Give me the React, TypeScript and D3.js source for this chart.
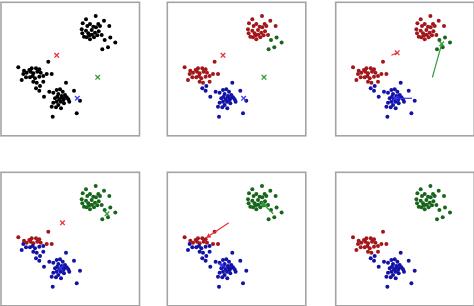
import React from "react";
import * as d3 from "d3";

// Sample coordinates (data units, y grows downward inside each frame)
const upperCluster: [number, number][] = [
  [94.7, 13.7], [85, 17], [81.7, 21], [89, 21.7], [103, 18.4], [97.3, 21.7], [92.3, 24.4], [86.3, 23.7],
  [80.7, 27], [99, 23.7], [95, 25], [108.3, 23.7], [90.7, 27.7], [85, 28.4], [81.3, 31], [87.3, 31],
  [94, 30.4], [97.7, 29], [100.7, 32.7], [85.7, 35], [89, 37], [93, 35], [88.3, 33], [91, 32.4],
  [96.3, 33], [83, 34.4], [103.7, 37.7], [109.3, 35.3], [114.3, 40.3], [107, 45], [101.3, 47],
];

const leftCluster: [number, number][] = [
  [17.3, 65], [23, 68.4], [28.3, 67.7], [30.7, 66], [35, 66], [38.3, 67], [25.7, 70.4], [29.7, 69.4],
  [32.3, 71], [36.3, 69.4], [39.7, 70.4], [45.7, 71.7], [50.7, 71.7], [47.3, 59.4], [22.3, 71.7],
  [20.7, 77.7], [25, 75], [29, 75], [31.7, 73.7], [34, 76], [38.3, 74.4], [42.3, 73.7], [32.3, 79.4],
  [35.7, 80.4], [42.3, 79.4], [39, 83.7], [35, 86], [38.3, 88.4], [43, 94.4],
];

const lowerCluster: [number, number][] = [
  [65, 80.4], [73, 88.4], [48.3, 89.4], [52.3, 90.4], [55.7, 87.7], [59, 87], [61.7, 89.4], [57.3, 91.7],
  [60.7, 93.7], [64, 92.7], [65.7, 95], [67.3, 97], [54, 96], [58.3, 97], [62.3, 97.7], [59.7, 99.4],
  [55.7, 99.4], [52.3, 100.4], [57.3, 102.7], [63, 101], [50.7, 104.4], [55, 105], [60, 106],
  [51.7, 114.4], [75.7, 111], [79, 98.4], [68.3, 99.4], [60.7, 95], [56.3, 94.4], [63.3, 96],
];

// Cluster labels per iteration (k = unassigned, r/g/b = cluster)
const upperLabels = [
  "kkkkk kkkkk kkkkk kkkkk kkkkk kkkkk k",
  "rrrrr rrrrr rrrrr rrrrr rrrrr r ggggg",
  "ggggg ggggg ggggg ggggg ggggg ggggg g",
  "ggggg ggggg ggggg ggggg ggggg ggggg g",
];
const leftLabels = [
  "kkkkk kkkkk kkkkk kkkkk kkkkk kkkk",
  "rrrrr rrrrr rrrrr rrrrr rrrrr bbbb",
  "rrrrr rrrrr rrrr bbbbb bbbbb bbbbb",
  "rrrrr rrrrr rrrrr rrrrr rrrrr bbbb",
];
const lowerLabels = [
  "kkkkk kkkkk kkkkk kkkkk kkkkk kkkkk",
  "bbbbb bbbbb bbbbb bbbbb bbbbb bbbbb",
  "bbbbb bbbbb bbbbb bbbbb bbbbb bbbbb",
  "bbbbb bbbbb bbbbb bbbbb bbbbb bbbbb",
];

// Centroid positions after each update step
const centroidRed: [number, number][] = [[55.7, 53], [61.5, 50.5], [39, 65.5]];
const centroidGreen: [number, number][] = [[96.7, 75], [106, 41.5], [94, 30]];
const centroidBlue: [number, number][] = [[76.3, 96], [59.5, 96], [51.6, 91.1]];

// Panel sequence: which labelling, which centroid step, and how the centroids move
type Panel = { labels: number; marks: number | null; move: "none" | "line" | "arrow"; from?: number; to?: number };
const panels: Panel[] = [
  { labels: 0, marks: 0, move: "none" },
  { labels: 1, marks: 0, move: "none" },
  { labels: 1, marks: 1, move: "line", from: 0, to: 1 },
  { labels: 2, marks: 1, move: "none" },
  { labels: 2, marks: null, move: "arrow", from: 1, to: 2 },
  { labels: 3, marks: null, move: "none" },
];

const pointColor: Record<string, string> = { k: "#000000", r: "#a3161a", g: "#17661c", b: "#1212a6" };
const markColor: Record<string, string> = { r: "#e5323a", g: "#2f9a36", b: "#3a3af2" };

const W = 474;
const H = 306;
const colX = [1, 167.3, 335.7];
const rowY = [2.3, 172.3];
const PW = 138.5;
const PH = 133.5;

const clean = (s: string) => s.replace(/ /g, "");

export default function App() {
  const x = d3.scaleLinear().domain([0, 138.5]).range([0, PW]);
  const y = d3.scaleLinear().domain([0, 133.5]).range([0, PH]);

  const points = [...upperCluster, ...leftCluster, ...lowerCluster];
  const labelSets = [0, 1, 2, 3].map(
    (i) => clean(upperLabels[i]) + clean(leftLabels[i]) + clean(lowerLabels[i])
  );

  const centroids: Record<string, [number, number][]> = { r: centroidRed, g: centroidGreen, b: centroidBlue };
  const keys = ["r", "g", "b"];

  const cross = (cx: number, cy: number, color: string, key: string) => {
    const s = 2.3;
    return (
      <g key={key} stroke={color} strokeWidth={1.3}>
        <line x1={cx - s} y1={cy - s} x2={cx + s} y2={cy + s} />
        <line x1={cx - s} y1={cy + s} x2={cx + s} y2={cy - s} />
      </g>
    );
  };

  return (
    <svg
      width={W}
      height={H}
      style={{ position: "absolute", left: 0, top: 0, background: "#ffffff" }}
      fontFamily="DejaVu Sans"
    >
      <defs>
        {keys.map((k) => (
          <marker
            key={k}
            id={`head-${k}`}
            viewBox="0 0 10 10"
            refX={9}
            refY={5}
            markerUnits="userSpaceOnUse"
            markerWidth={6}
            markerHeight={5}
            orient="auto"
          >
            <path d="M0,0 L10,5 L0,10 z" fill={markColor[k]} />
          </marker>
        ))}
      </defs>
      {panels.map((p, i) => {
        const gx = colX[i % 3];
        const gy = rowY[Math.floor(i / 3)];
        const labels = labelSets[p.labels];
        return (
          <g key={i} transform={`translate(${gx},${gy})`}>
            <rect x={0} y={0} width={PW} height={PH} fill="#ffffff" stroke="#a4a4a4" strokeWidth={1.6} />
            {points.map((pt, j) => (
              <circle key={j} cx={x(pt[0])} cy={y(pt[1])} r={2} fill={pointColor[labels[j]]} />
            ))}
            {p.move !== "none" &&
              keys.map((k) => {
                const a = centroids[k][p.from as number];
                const b = centroids[k][p.to as number];
                return (
                  <line
                    key={`m-${k}`}
                    x1={x(a[0])}
                    y1={y(a[1])}
                    x2={x(b[0])}
                    y2={y(b[1])}
                    stroke={markColor[k]}
                    strokeWidth={1.2}
                    markerEnd={p.move === "arrow" ? `url(#head-${k})` : undefined}
                  />
                );
              })}
            {p.marks !== null &&
              keys.map((k) => {
                const c = centroids[k][p.marks as number];
                return cross(x(c[0]), y(c[1]), markColor[k], `c-${k}`);
              })}
          </g>
        );
      })}
    </svg>
  );
}
